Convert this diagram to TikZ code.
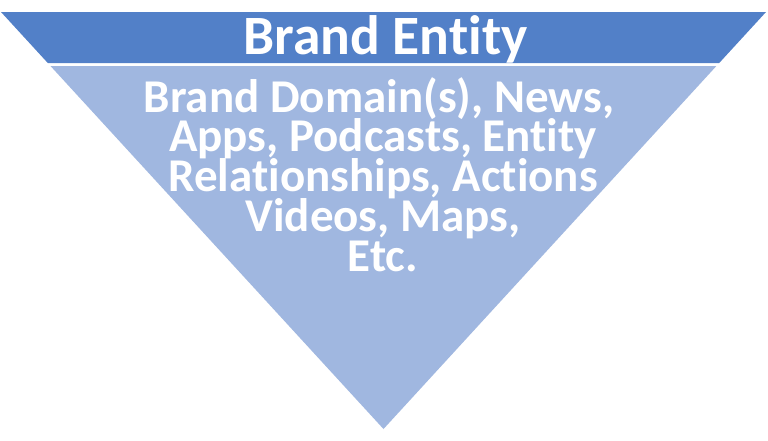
\documentclass[tikz,border=0pt]{standalone}
\usepackage{fontspec}
\setmainfont{Carlito}[Ligatures=NoCommon]
\definecolor{topblue}{RGB}{82,128,200}
\definecolor{lowblue}{RGB}{160,183,224}
\begin{document}
\begin{tikzpicture}[x=1pt,y=-1pt,
  bandtxt/.style={text=white,font=\bfseries,inner sep=0pt,align=center,anchor=base},
  bodytxt/.style={bandtxt,font=\bfseries\fontsize{47}{40}\selectfont}]
\useasboundingbox (0,0) rectangle (768,440);
\fill[white] (0,0) rectangle (768,440);
\fill[topblue] (1,12) -- (766,12) -- (719.2,63) -- (47.8,63) -- cycle;
\fill[lowblue] (50.5,66) -- (716.4,66) -- (383.5,429) -- cycle;
\node[bandtxt,font=\bfseries\fontsize{55.5}{56}\selectfont] (title) at (385.5,54) {Brand Entity};
\node[bodytxt] (l1) at (379,112.5) {Brand Domain(s), News,};
\node[bodytxt] (l2) at (383,151.5) {Apps, Podcasts, Entity};
\node[bodytxt] (l3) at (383,191) {Relationships, Actions};
\node[bodytxt] (l4) at (383,231.5) {Videos, Maps,};
\node[bodytxt] (l5) at (383,271.5) {Etc.};
\end{tikzpicture}
\end{document}
